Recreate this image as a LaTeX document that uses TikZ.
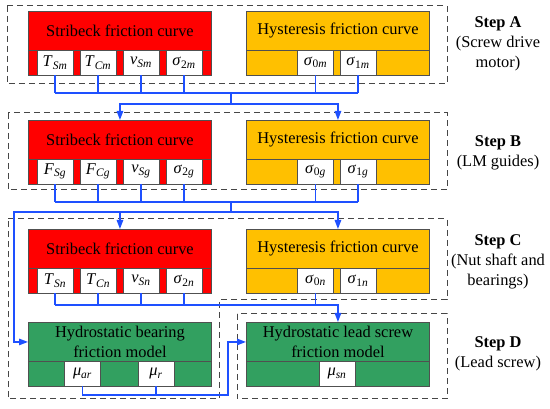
\documentclass[tikz,border=0pt]{standalone}
\usepackage{fontspec}
\setmainfont{Liberation Serif}
\usetikzlibrary{arrows.meta}
\definecolor{cred}{RGB}{255,0,0}
\definecolor{corange}{RGB}{255,192,0}
\definecolor{cgreen}{RGB}{50,160,96}
\definecolor{cblue}{RGB}{30,80,255}
\definecolor{cdash}{RGB}{70,70,70}
\definecolor{cborder}{RGB}{80,80,80}
\newcommand{\vv}[2]{\textit{#1}\textsubscript{#2}}
\begin{document}
\begin{tikzpicture}[x=1pt,y=-1pt,
  font=\fontsize{16.4}{20}\selectfont,
  hdr/.style={draw=cborder, line width=0.9pt, minimum width=183pt, minimum height=39pt, inner sep=0pt, anchor=north west, align=center},
  band/.style={draw=cborder, line width=0.9pt, minimum width=183pt, minimum height=25pt, inner sep=0pt, anchor=north west},
  cell/.style={draw=cborder, line width=0.6pt, fill=white, minimum width=36pt, minimum height=25pt, inner sep=0pt},
  grp/.style={draw=cdash, line width=1pt, dash pattern=on 6pt off 4pt},
  conn/.style={draw=cblue, line width=1.3pt},
  arr/.style={conn, -{Triangle[length=9pt,width=6.5pt]}},
  lab/.style={align=center}
]
\useasboundingbox (0,0) rectangle (550,409);

% group frames
\draw[grp] (7,6) rectangle (447,84);
\draw[grp] (8,113) rectangle (447,190);
\draw[grp] (8,219) -- (447,219) -- (447,300) -- (219,300) -- (219,399) -- (8,399) -- cycle;
\draw[grp] (237,314) rectangle (447,399);

% ---- Step A
\node[hdr, fill=cred] (SA) at (28,11) {Stribeck friction curve};
\node[band, fill=cred] (SAb) at (28,50) {};
\node[hdr, fill=corange] (HA) at (246,11) {Hysteresis friction curve};
\node[band, fill=corange] (HAb) at (246,50) {};
\node[cell] (TSm) at (55,62.5) {\vv{T}{\textit{Sm}}};
\node[cell] (TCm) at (98,62.5) {\vv{T}{\textit{Cm}}};
\node[cell] (vSm) at (141,62.5) {\vv{v}{\textit{Sm}}};
\node[cell] (s2m) at (184,62.5) {\vv{σ}{2\textit{m}}};
\node[cell] (s0m) at (315.5,62.5) {\vv{σ}{0\textit{m}}};
\node[cell] (s1m) at (358,62.5) {\vv{σ}{1\textit{m}}};
\node[lab] (labA) at (498,44) {\textbf{Step A}\\(Screw drive\\motor)};

% ---- Step B
\node[hdr, fill=cred] (SB) at (28,120) {Stribeck friction curve};
\node[band, fill=cred] (SBb) at (28,159) {};
\node[hdr, fill=corange] (HB) at (246,120) {Hysteresis friction curve};
\node[band, fill=corange] (HBb) at (246,159) {};
\node[cell] (FSg) at (55,171.5) {\vv{F}{\textit{Sg}}};
\node[cell] (FCg) at (98,171.5) {\vv{F}{\textit{Cg}}};
\node[cell] (vSg) at (141,171.5) {\vv{v}{\textit{Sg}}};
\node[cell] (s2g) at (184,171.5) {\vv{σ}{2\textit{g}}};
\node[cell] (s0g) at (315.5,171.5) {\vv{σ}{0\textit{g}}};
\node[cell] (s1g) at (358,171.5) {\vv{σ}{1\textit{g}}};
\node[lab] (labB) at (498,153) {\textbf{Step B}\\(LM guides)};

% ---- Step C
\node[hdr, fill=cred] (SC) at (28,229) {Stribeck friction curve};
\node[band, fill=cred] (SCb) at (28,268) {};
\node[hdr, fill=corange] (HC) at (246,229) {Hysteresis friction curve};
\node[band, fill=corange] (HCb) at (246,268) {};
\node[cell] (TSn) at (55,280.5) {\vv{T}{\textit{Sn}}};
\node[cell] (TCn) at (98,280.5) {\vv{T}{\textit{Cn}}};
\node[cell] (vSn) at (141,280.5) {\vv{v}{\textit{Sn}}};
\node[cell] (s2n) at (184,280.5) {\vv{σ}{2\textit{n}}};
\node[cell] (s0n) at (315.5,280.5) {\vv{σ}{0\textit{n}}};
\node[cell] (s1n) at (358,280.5) {\vv{σ}{1\textit{n}}};
\node[lab] (labC) at (498,261.5) {\textbf{Step C}\\(Nut shaft and\\bearings)};

% ---- Step D (and hydrostatic bearing)
\node[hdr, fill=cgreen] (HBM) at (28,322) {Hydrostatic bearing\\friction model};
\node[band, fill=cgreen] (HBMb) at (28,361) {};
\node[hdr, fill=cgreen] (HLS) at (246,322) {Hydrostatic lead screw\\friction model};
\node[band, fill=cgreen] (HLSb) at (246,361) {};
\node[cell] (mar) at (82.5,373.5) {\vv{μ}{\textit{ar}}};
\node[cell] (mr) at (156,373.5) {\vv{μ}{\textit{r}}};
\node[cell] (msn) at (337,373.5) {\vv{μ}{\textit{sn}}};
\node[lab] (labD) at (498,353.5) {\textbf{Step D}\\(Lead screw)};

% ---- connectors A -> B
\coordinate (busA) at (231,93);
\coordinate (busA2) at (231,104);
\foreach \n in {TSm,TCm,vSm,s2m,s0m,s1m} \draw[conn] (\n.south) -- (\n.south |- busA);
\draw[conn] (TSm.south |- busA) -- (s1m.south |- busA);
\draw[conn] (busA) -- (busA2);
\draw[arr] (busA2) -| (SB.north);
\draw[arr] (busA2) -| (HB.north);

% ---- connectors B -> C and bearing model
\coordinate (busB) at (231,202);
\coordinate (busB2) at (231,212);
\coordinate (leftB) at (14,212);
\foreach \n in {FSg,FCg,vSg,s2g,s0g,s1g} \draw[conn] (\n.south) -- (\n.south |- busB);
\draw[conn] (FSg.south |- busB) -- (s1g.south |- busB);
\draw[conn] (busB) -- (busB2);
\draw[arr] (busB2) -| (SC.north);
\draw[arr] (busB2) -| (HC.north);
\draw[arr] (busB2) -- (leftB) |- (HBM.west);

% ---- connectors C -> lead screw model
\coordinate (busC) at (231,305);
\foreach \n in {TSn,TCn,vSn,s2n,s0n} \draw[conn] (\n.south) -- (\n.south |- busC);
\draw[arr] (TSn.south |- busC) -| (HLS.north);

% ---- bearing model -> lead screw model
\coordinate (busG) at (228,395);
\draw[conn] (mr.south) -- (mr.south |- busG);
\draw[arr] (mar.south) |- (busG) |- (HLS.west);
\end{tikzpicture}
\end{document}
